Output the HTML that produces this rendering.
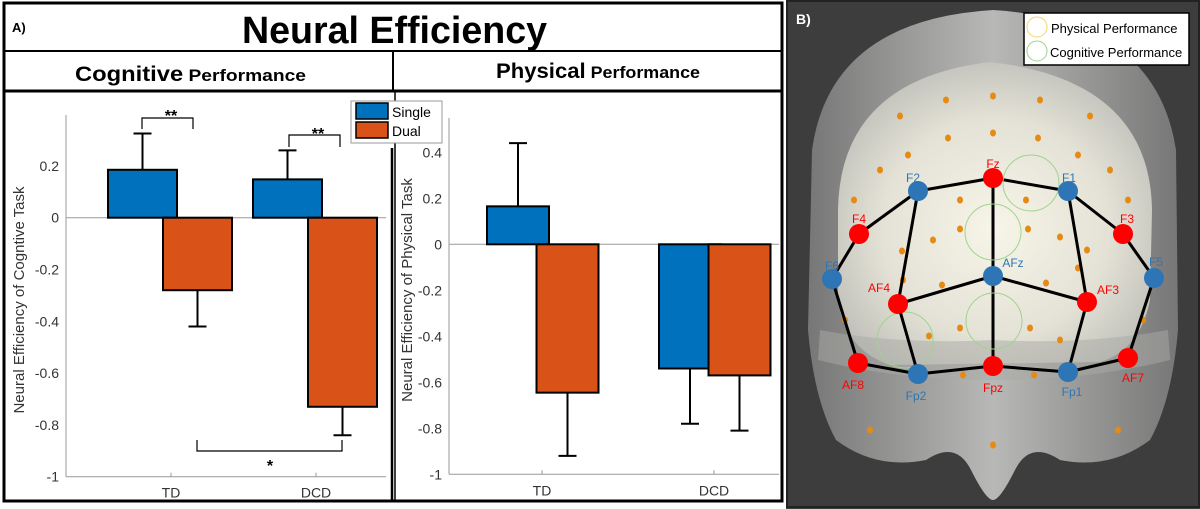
<!DOCTYPE html>
<html><head><meta charset="utf-8"><style>
html,body{margin:0;padding:0;background:#fff;}
body{width:1200px;height:509px;overflow:hidden;position:relative;font-family:"Liberation Sans",sans-serif;}
svg{position:absolute;left:0;top:0;}
</style></head><body>
<svg id="fig" width="1200" height="509" viewBox="0 0 1200 509">
  <g fill="none" stroke="#000">
    <rect x="4" y="3" width="778" height="498" stroke-width="3"/>
    <line x1="4" y1="51" x2="782" y2="51" stroke-width="2"/>
    <line x1="4" y1="91" x2="782" y2="91" stroke-width="3"/>
    <line x1="393" y1="51" x2="393" y2="91" stroke-width="2"/>
    <line x1="392" y1="148" x2="392" y2="501" stroke-width="2.5"/>
    <line x1="395" y1="91" x2="395" y2="501" stroke-width="1.5"/>
  </g>
  <text x="12" y="32" font-size="13" font-weight="bold">A)</text>
  <text x="242" y="43" font-size="38" font-weight="bold" textLength="305" lengthAdjust="spacingAndGlyphs">Neural Efficiency</text>
  <text x="75" y="81" font-weight="bold" textLength="231" lengthAdjust="spacingAndGlyphs"><tspan font-size="21">Cognitive</tspan><tspan font-size="17"> Performance</tspan></text>
  <text x="496" y="78" font-weight="bold" textLength="204" lengthAdjust="spacingAndGlyphs"><tspan font-size="21">Physical</tspan><tspan font-size="17"> Performance</tspan></text>

  <g id="chartL"></g>
  <g id="chartR"></g>

  <g>
    <rect x="351" y="101" width="91" height="42" fill="#fff" stroke="#999" stroke-width="1"/>
    <rect x="356" y="103" width="32" height="16" fill="#0072bd" stroke="#000" stroke-width="1.5"/>
    <rect x="356" y="122" width="32" height="16" fill="#d95319" stroke="#000" stroke-width="1.5"/>
    <text x="392" y="117" font-size="14">Single</text>
    <text x="392" y="136" font-size="14">Dual</text>
  </g>

  <g fill="none" stroke="#000" stroke-width="1.2">
    <path d="M142 129 V118 H193 V129"/>
    <path d="M289 147 V135 H340 V147"/>
    <path d="M197 440 V451 H342 V440"/>
  </g>
  <text x="171" y="121" font-size="16" font-weight="bold" text-anchor="middle">**</text>
  <text x="318" y="139" font-size="16" font-weight="bold" text-anchor="middle">**</text>
  <text x="270" y="471" font-size="16" font-weight="bold" text-anchor="middle">*</text>

  <g>
    <defs>
      <radialGradient id="brainG" cx="0.5" cy="0.55" r="0.6">
        <stop offset="0" stop-color="#f6f5e8"/><stop offset="0.6" stop-color="#e4e2d6"/><stop offset="1" stop-color="#bdbdb7"/>
      </radialGradient>
      <linearGradient id="headG" x1="0" y1="0" x2="1" y2="0">
        <stop offset="0" stop-color="#777"/><stop offset="0.5" stop-color="#b8b8b6"/><stop offset="1" stop-color="#777"/>
      </linearGradient>
    </defs>
    <rect x="786" y="0" width="414" height="509" fill="#3d3d3d"/>
    <rect x="787" y="1" width="412" height="506" fill="none" stroke="#222" stroke-width="2"/>
    <path d="M812 150 Q830 20 993 10 Q1156 20 1176 150 L1178 330 Q1172 400 1150 440 Q1110 470 1060 460 Q1030 440 1015 470 Q1000 500 993 500 Q986 500 971 470 Q956 440 926 460 Q876 470 836 440 Q814 400 808 330 Z" fill="url(#headG)"/>
    <path d="M838 210 Q840 80 990 62 Q1150 80 1152 210 L1150 300 Q1140 350 1100 362 L890 365 Q845 350 838 300 Z" fill="url(#brainG)"/>
    <path d="M820 330 Q900 345 993 340 Q1086 345 1168 330 L1170 360 Q1090 380 993 380 Q896 380 818 360 Z" fill="#a9a9a6" opacity="0.5"/>
    <g id="dots" fill="#e58a12"></g>
    <g id="net"></g>
    <rect x="1024" y="13" width="165" height="52" fill="#fff" stroke="#000" stroke-width="1.5"/>
    <circle cx="1037" cy="27" r="10" fill="none" stroke="#f3d36a" stroke-width="1"/>
    <circle cx="1037" cy="51" r="10" fill="none" stroke="#9fd38c" stroke-width="1"/>
    <text x="1051" y="33" font-size="13">Physical Performance</text>
    <text x="1050" y="57" font-size="13">Cognitive Performance</text>
    <text x="796" y="24" font-size="14" font-weight="bold" fill="#fff">B)</text>
  </g>
</svg>
<script>
const NS="http://www.w3.org/2000/svg";
function mk(parent,tag,attrs){const e=document.createElementNS(NS,tag);for(const k in attrs)e.setAttribute(k,attrs[k]);parent.appendChild(e);return e;}

const groups=["TD","DCD"];
const cogSingle=[0.185,0.148];
const cogSingleErr=[0.14,0.112];
const cogDual=[-0.28,-0.73];
const cogDualErr=[0.14,0.11];
const physSingle=[0.165,-0.54];
const physSingleErr=[0.275,0.24];
const physDual=[-0.645,-0.57];
const physDualErr=[0.275,0.24];
const cogTicks=[0.2,0,-0.2,-0.4,-0.6,-0.8,-1];
const physTicks=[0.4,0.2,0,-0.2,-0.4,-0.6,-0.8,-1];

function drawChart(g,cfg){
  const y=v=>cfg.y0-v*cfg.k;
  const x=i=>cfg.gx[i];
  mk(g,'line',{x1:cfg.ax,y1:cfg.atop,x2:cfg.ax,y2:y(-1),stroke:'#999','stroke-width':1});
  mk(g,'line',{x1:cfg.ax,y1:y(-1),x2:cfg.aright,y2:y(-1),stroke:'#999','stroke-width':1});
  mk(g,'line',{x1:cfg.ax,y1:y(0),x2:cfg.aright,y2:y(0),stroke:'#999','stroke-width':1});
  cfg.ticks.forEach(t=>{
    const tl=mk(g,'text',{x:cfg.ax-7,y:y(t)+5,'font-size':14,'text-anchor':'end',fill:'#333'});
    
    
    tl.textContent=(t===0?'0':String(t));
  });
  groups.forEach((gname,i)=>{
    mk(g,'line',{x1:x(i),y1:y(-1),x2:x(i),y2:y(-1)-4,stroke:'#999'});
    const xl=mk(g,'text',{x:x(i),y:y(-1)+21,'font-size':14,'text-anchor':'middle',fill:'#333'});
    
    
    xl.textContent=gname;
    [[cfg.s,cfg.se,'#0072bd',cfg.offS,'bar-single'],[cfg.d,cfg.de,'#d95319',cfg.offD,'bar-dual']].forEach(([vals,errs,col,off,nm])=>{
      const v=vals[i],cx=x(i)+off,w=cfg.bw;
      const top=Math.min(y(v),y(0)),h=Math.abs(y(v)-y(0));
      const r=mk(g,'rect',{x:cx-w/2,y:top,width:w,height:h,fill:col,stroke:'#000','stroke-width':2});
      
      
      const ev=v+(v>=0?errs[i]:-errs[i]);
      const eb=mk(g,'path',{d:`M${cx} ${y(v)} V${y(ev)} M${cx-9} ${y(ev)} H${cx+9}`,stroke:'#000','stroke-width':2,fill:'none'});
      
      
    });
  });
  const yl=mk(g,'text',{x:0,y:0,'font-size':15,'text-anchor':'middle',fill:'#333',transform:`translate(${cfg.ylx},${cfg.yly}) rotate(-90)`});
  
  
  yl.textContent=cfg.title;
}
drawChart(document.getElementById('chartL'),{y0:217.7,k:259,ax:66,atop:115,aright:386,gx:[171,316],offS:-28.5,offD:26.5,bw:69,
  s:cogSingle,se:cogSingleErr,d:cogDual,de:cogDualErr,ticks:cogTicks,ylx:24,yly:300,title:'Neural Efficiency of Cogntive Task'});
drawChart(document.getElementById('chartR'),{y0:244.3,k:230,ax:449,atop:118,aright:779,gx:[542,714],offS:-24,offD:25.5,bw:62,
  s:physSingle,se:physSingleErr,d:physDual,de:physDualErr,ticks:physTicks,ylx:412,yly:290,title:'Neural Efficiency of Physical Task'});

const net=document.getElementById('net');
const nodes={Fz:[993,178,'r'],F2:[918,191,'b'],F1:[1068,191,'b'],F4:[859,234,'r'],F3:[1123,234,'r'],F6:[832,279,'b'],F5:[1154,278,'b'],
AFz:[993,276,'b'],AF4:[898,304,'r'],AF3:[1087,302,'r'],AF8:[858,363,'r'],Fp2:[918,374,'b'],Fpz:[993,366,'r'],Fp1:[1068,372,'b'],AF7:[1128,358,'r']};
const edges=[['Fz','F2'],['Fz','F1'],['Fz','AFz'],['AFz','Fpz'],['F2','F4'],['F4','F6'],['F6','AF8'],['AF8','Fp2'],['Fp2','Fpz'],['Fpz','Fp1'],['Fp1','AF7'],['AF7','F5'],['F5','F3'],['F3','F1'],['F1','AF3'],['AF3','Fp1'],['AF3','AFz'],['AFz','AF4'],['AF4','F2'],['AF4','Fp2']];
const dots=document.getElementById('dots');
[[993,96],[993,133],[948,138],[1038,138],[908,155],[1078,155],[960,200],[1026,200],[933,240],[960,229],[1028,229],[1060,237],[902,251],[1087,250],[903,280],[942,285],[1046,283],[1078,268],[960,328],[1030,328],[929,336],[1060,340],[963,375],[1034,375],[880,170],[1110,170],[1128,200],[854,200],[993,445],[870,430],[1118,430],[845,320],[1143,320],[1040,100],[946,100],[900,116],[1090,116]].forEach(p=>mk(dots,'ellipse',{cx:p[0],cy:p[1],rx:3,ry:3.5}));
edges.forEach(([a,b])=>{const l=mk(net,'line',{x1:nodes[a][0],y1:nodes[a][1],x2:nodes[b][0],y2:nodes[b][1],stroke:'#000','stroke-width':3});
  
  });
[[1031,183],[993,232],[994,321],[905,340]].forEach(c=>{const e=mk(net,'circle',{cx:c[0],cy:c[1],r:28,fill:'none',stroke:'#9fd38c','stroke-width':1});
  
  });
const labOff={Fz:[0,-14],F2:[-5,-13],F1:[1,-13],F4:[0,-15],F3:[4,-15],F6:[0,-13],F5:[2,-16],AFz:[20,-13],AF4:[-19,-16],AF3:[21,-12],AF8:[-5,22],Fp2:[-2,22],Fpz:[0,22],Fp1:[4,20],AF7:[5,20]};
for(const k in nodes){const [cx,cy,c]=nodes[k];const col=c==='r'?'#ff0000':'#2e75b6';
  const n=mk(net,'circle',{cx:cx,cy:cy,r:10,fill:col});
  
  
  const t=mk(net,'text',{x:cx+labOff[k][0],y:cy+labOff[k][1]+4,'font-size':12,'text-anchor':'middle',fill:col});
  
  
  t.textContent=k;}
</script>
</body></html>
